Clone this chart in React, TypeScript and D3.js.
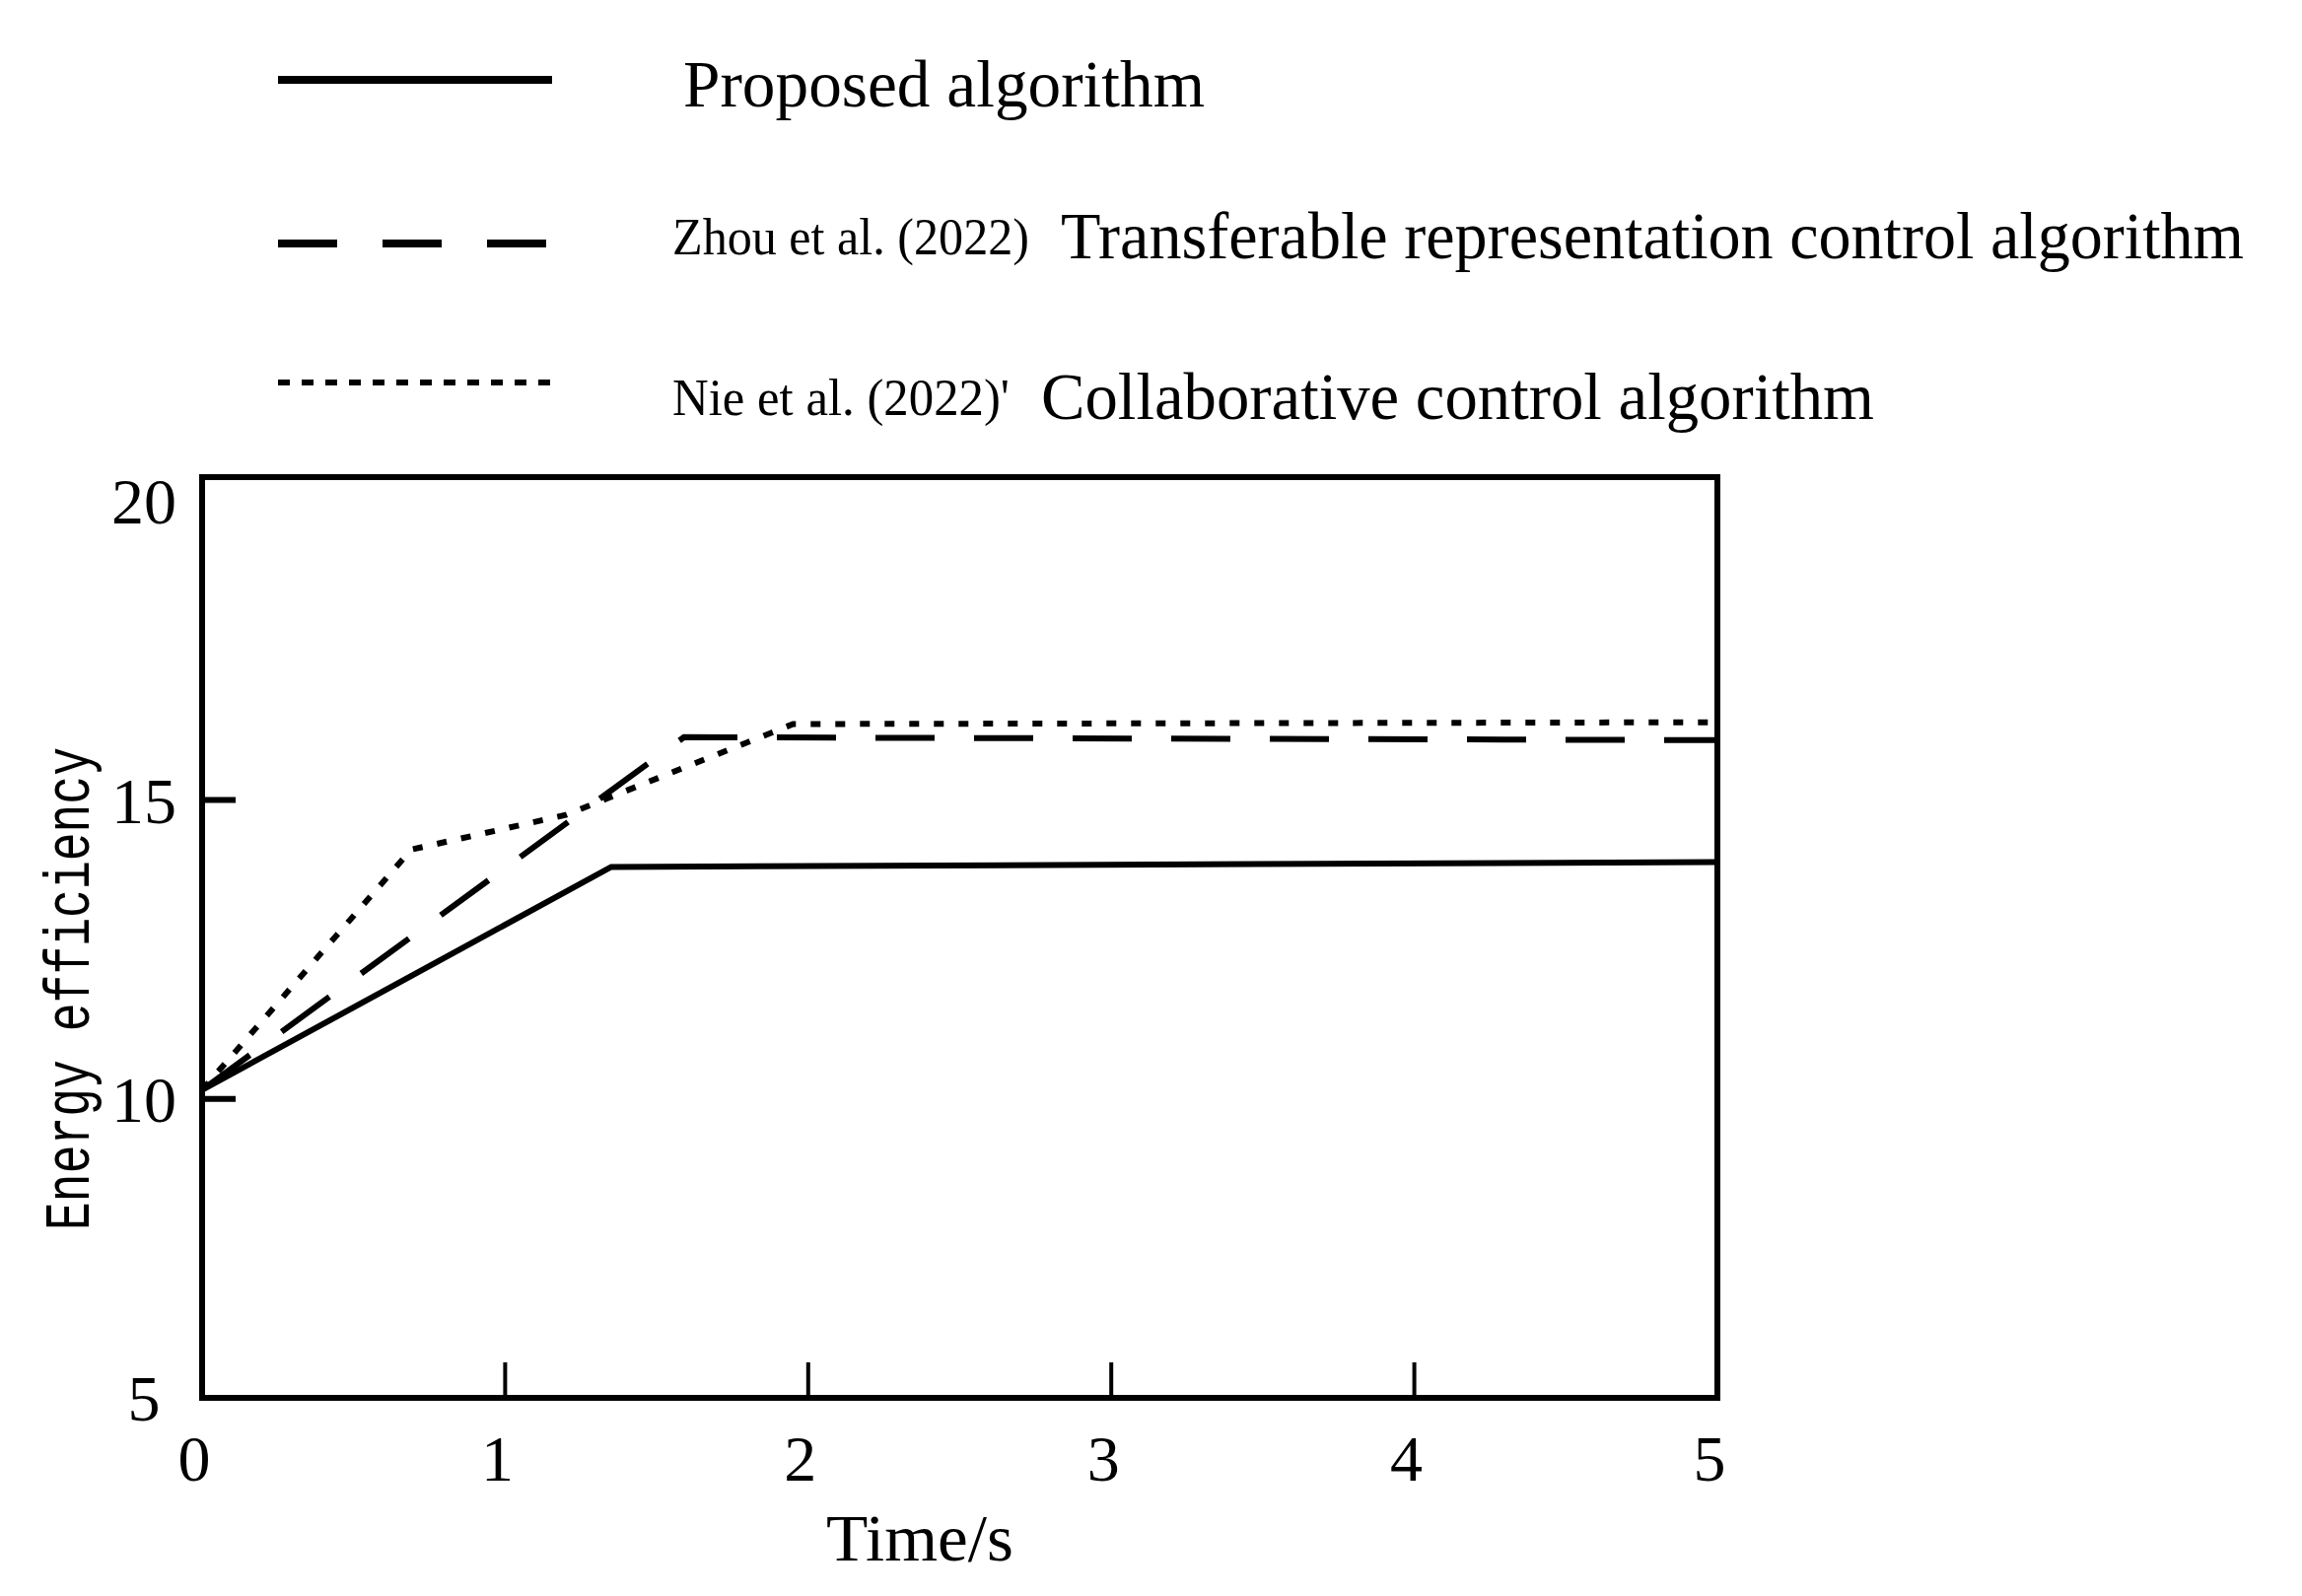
import React from 'react';
import * as d3 from 'd3';

// axis ticks
const timeTicks = [0, 1, 2, 3, 4, 5];
const innerTimeTicks = [1, 2, 3, 4];
const effTicks = [5, 10, 15, 20];
const innerEffTicks = [10, 15];

// series (time in s, energy efficiency)
const proposedTime = [0, 1.35, 5];
const proposedEff = [10.15, 13.88, 13.96];
const zhouTime = [0, 1.59, 5];
const zhouEff = [10.15, 16.05, 16.0];
const nieTime = [0, 0.69, 1.2, 1.95, 5];
const nieEff = [10.15, 14.17, 14.75, 16.27, 16.3];

const seriesNames = [
  'Proposed algorithm',
  'Transferable representation control algorithm',
  'Collaborative control algorithm',
];
const seriesCites = ['', 'Zhou et al. (2022)', "Nie et al. (2022)'"];

const W = 2335;
const H = 1619;
const Y_MAX = 20.4;
const plot = { left: 205, right: 1742, top: 484, bottom: 1418 };

const lineDash = [undefined, '60 40', '10 15'];
const legendDash = [undefined, '60 46', '12 12'];
const legendLineY = [81, 247, 388];
const legendTextY = [108, 262, 425];
const citeWidth = [0, 362, 342];
const nameWidth = [529, 1200, 845];

const serif = '"Liberation Serif", "DejaVu Serif", serif';
const mono = '"Liberation Mono", "DejaVu Sans Mono", monospace';

const App: React.FC = () => {
  const x = d3.scaleLinear().domain([0, 5]).range([plot.left, plot.right]);
  const y = d3.scaleLinear().domain([5, Y_MAX]).range([plot.bottom, plot.top]);

  const series = [
    { t: proposedTime, v: proposedEff },
    { t: zhouTime, v: zhouEff },
    { t: nieTime, v: nieEff },
  ];

  const line = d3.line<[number, number]>()
    .x(d => x(d[0]))
    .y(d => y(d[1]));

  return (
    <svg width={W} height={H} viewBox={`0 0 ${W} ${H}`}
      style={{ position: 'absolute', left: 0, top: 0, background: '#fff' }}>
      <rect x={0} y={0} width={W} height={H} fill="#fff" />

      {/* legend */}
      {seriesNames.map((name, i) => (
        <g key={name}>
          <line x1={282} x2={560} y1={legendLineY[i]} y2={legendLineY[i]}
            stroke="#000" strokeWidth={i === 2 ? 6 : 8}
            strokeDasharray={legendDash[i]} />
          {seriesCites[i] && (
            <text x={682} y={legendTextY[i] - 4} fontFamily={serif} fontSize={52}
              textLength={citeWidth[i]} lengthAdjust="spacingAndGlyphs">
              {seriesCites[i]}
            </text>
          )}
          <text x={seriesCites[i] ? 682 + citeWidth[i] + 32 : 693}
            y={legendTextY[i]} fontFamily={serif} fontSize={68}
            textLength={nameWidth[i]} lengthAdjust="spacingAndGlyphs">
            {name}
          </text>
        </g>
      ))}

      {/* series */}
      {series.map((s, i) => (
        <path key={i}
          d={line(s.t.map((t, j) => [t, s.v[j]] as [number, number])) ?? ''}
          fill="none" stroke="#000" strokeWidth={6}
          strokeDasharray={lineDash[i]} strokeLinejoin="miter" />
      ))}

      {/* frame */}
      <rect x={x(0)} y={y(Y_MAX)} width={x(5) - x(0)} height={y(5) - y(Y_MAX)}
        fill="none" stroke="#000" strokeWidth={6} />

      {/* ticks */}
      {innerTimeTicks.map(t => (
        <line key={`xt${t}`} x1={x(t)} x2={x(t)} y1={y(5)} y2={y(5) - 36}
          stroke="#000" strokeWidth={4} />
      ))}
      {innerEffTicks.map(v => (
        <line key={`yt${v}`} x1={x(0)} x2={x(0) + 34} y1={y(v)} y2={y(v)}
          stroke="#000" strokeWidth={6} />
      ))}

      {/* tick labels */}
      {timeTicks.map(t => (
        <text key={`xl${t}`} x={x(t) - 8} y={1502} textAnchor="middle"
          fontFamily={serif} fontSize={66}>{t}</text>
      ))}
      {effTicks.map(v => (
        <text key={`yl${v}`} x={146} y={y(v)} dy="0.35em" textAnchor="middle"
          fontFamily={serif} fontSize={66}>{v}</text>
      ))}

      {/* axis titles */}
      <text x={933} y={1583} textAnchor="middle" fontFamily={serif} fontSize={68}
        textLength={190} lengthAdjust="spacingAndGlyphs">Time/s</text>
      <text transform="translate(90,1003) rotate(-90)" textAnchor="middle"
        fontFamily={mono} fontSize={64} textLength={490}
        lengthAdjust="spacingAndGlyphs">Energy efficiency</text>
    </svg>
  );
};

export default App;
